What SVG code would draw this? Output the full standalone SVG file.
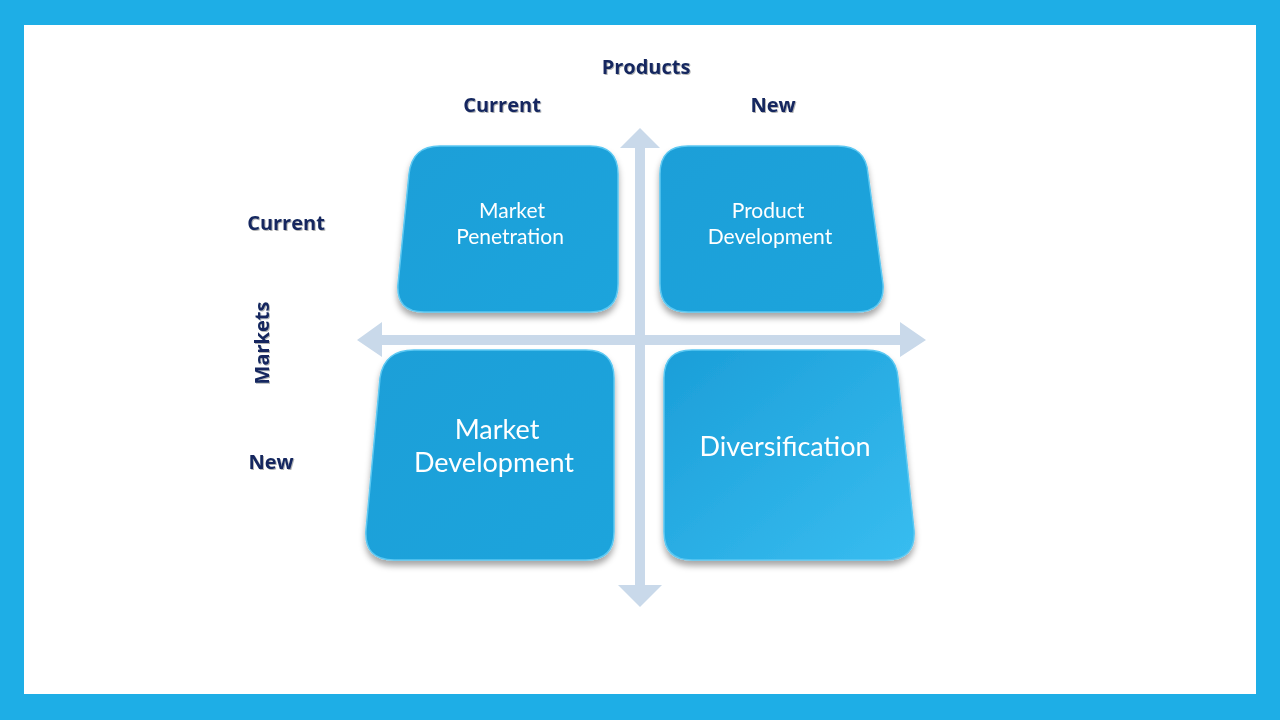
<svg xmlns="http://www.w3.org/2000/svg" width="1280" height="720" viewBox="0 0 1280 720">
<style>
.lab{font-family:"Open Sans","Liberation Sans",sans-serif;font-weight:bold;font-size:20px;fill:#13285e}
.q{font-family:Lato,"Open Sans",sans-serif;fill:#fff}
.box{stroke:#5cc8f2;stroke-width:1.5}
</style>
<defs>
<linearGradient id="g" x1="0" y1="0" x2="1" y2="1"><stop offset="0" stop-color="#1b9ed8"/><stop offset="1" stop-color="#38bdf0"/></linearGradient>
<linearGradient id="g1" x1="0" y1="0" x2="1" y2="1"><stop offset="0" stop-color="#1e9fd8"/><stop offset="1" stop-color="#1ea4dc"/></linearGradient>
<filter id="sh" x="-10%" y="-10%" width="130%" height="130%"><feDropShadow dx="0" dy="5" stdDeviation="3" flood-color="#000" flood-opacity="0.35"/></filter>
<filter id="ts"><feDropShadow dx="1" dy="1" stdDeviation="0.6" flood-color="#000" flood-opacity="0.3"/></filter>
</defs>
<rect width="1280" height="720" fill="#1eaee6"/>
<rect x="24" y="25" width="1232" height="669" fill="#fff"/>
<g id="connectors" fill="#c9d9ea">
<polygon points="357,340 382,322 382,335 900,335 900,322 926,340 900,357 900,345 382,345 382,357"/>
<polygon points="640,128 660,148 645,148 645,585 662,585 640,607 618,585 635,585 635,148 620,148"/>
</g>
<g id="n1" filter="url(#sh)"><path class="box" fill="url(#g1)" d="M440,146 H590 Q618,146 618,174 V284 Q618,312 590,312 H424 Q396,312 398,284 L409,174 Q412,146 440,146 Z"/>
<text class="q" x="512" y="218" font-size="21" text-anchor="middle">Market</text><text class="q" x="510" y="244" font-size="21" text-anchor="middle">Penetration</text></g>
<g id="n2" filter="url(#sh)"><path class="box" fill="url(#g1)" d="M688,146 H838 Q866,146 868,174 L883,284 Q885,312 856,312 H688 Q660,312 660,284 V174 Q660,146 688,146 Z"/>
<text class="q" x="768" y="218" font-size="21" text-anchor="middle">Product</text><text class="q" x="770" y="244" font-size="21" text-anchor="middle">Development</text></g>
<g id="n3" filter="url(#sh)"><path class="box" fill="url(#g1)" d="M414,350 H586 Q614,350 614,378 V532 Q614,560 586,560 H394 Q364,560 366,530 L380,378 Q384,350 414,350 Z"/>
<text class="q" x="497" y="439" font-size="27" text-anchor="middle">Market</text><text class="q" x="494" y="472" font-size="27" text-anchor="middle">Development</text></g>
<g id="n4" filter="url(#sh)"><path class="box" fill="url(#g)" d="M692,350 H866 Q896,350 898,378 L914,530 Q916,560 886,560 H692 Q664,560 664,532 V378 Q664,350 692,350 Z"/>
<text class="q" x="785" y="456" font-size="27" text-anchor="middle">Diversification</text></g>
<g filter="url(#ts)">
<text class="lab" x="646" y="74" text-anchor="middle">Products</text>
<text class="lab" x="502" y="112" text-anchor="middle">Current</text>
<text class="lab" x="773" y="112" text-anchor="middle">New</text>
<text class="lab" x="286" y="230" text-anchor="middle">Current</text>
<text class="lab" x="271" y="469" text-anchor="middle">New</text>
<text class="lab" transform="translate(269,343) rotate(-90)" text-anchor="middle">Markets</text>
</g>
</svg>
